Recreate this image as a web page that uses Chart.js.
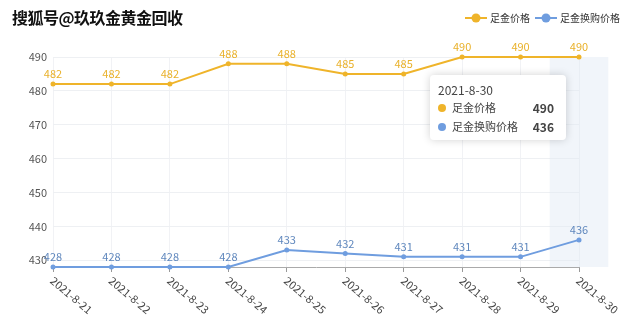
<!DOCTYPE html>
<html><head><meta charset="utf-8">
<script src="https://cdn.jsdelivr.net/npm/chart.js@4/dist/chart.umd.min.js"></script>
<style>
html,body{margin:0;padding:0;background:#fff;}
#wrap{position:relative;width:640px;height:330px;font-family:"Noto Sans CJK SC","Noto Sans",sans-serif;}
#wm{position:absolute;left:12px;top:5px;font-size:16px;font-weight:bold;color:#111;letter-spacing:-0.5px;text-shadow:0 0 2px #fff,0 0 1px #fff;}
#tt{position:absolute;background:#fff;border-radius:4px;box-shadow:0 0 8px rgba(0,0,0,0.18);padding:0;color:#444;font-size:11px;pointer-events:none;}
#tt .t{position:absolute;left:8px;top:6px;white-space:nowrap;font-size:12px;}
#tt .r{position:absolute;left:8px;right:12px;white-space:nowrap;}
#tt .d{display:inline-block;width:8px;height:8px;border-radius:50%;margin-right:6px;vertical-align:middle;position:relative;top:-1px;}
#tt .v{position:absolute;right:0;font-weight:bold;color:#444;font-size:12px;}
</style></head>
<body><div id="wrap"><canvas id="c" width="640" height="330"></canvas><div id="wm">搜狐号@玖玖金黄金回收</div><div id="tt"></div></div>
<script>
const categories = ["2021-8-21","2021-8-22","2021-8-23","2021-8-24","2021-8-25","2021-8-26","2021-8-27","2021-8-28","2021-8-29","2021-8-30"];
const seriesNames = ["足金价格","足金换购价格"];
const goldPrice = [482,482,482,488,488,485,485,490,490,490];
const exchangePrice = [428,428,428,428,433,432,431,431,431,436];
const yTicks = [430,440,450,460,470,480,490];
const activeIndex = 9;

const colors = ["#efb42a","#6f9ddf"];
const labelColors = ["#e9b12a","#5f87bd"];
const FONT = '"Noto Sans CJK SC","Noto Sans",sans-serif';

const customPlugin = {
  id: 'custom',
  beforeDatasetsDraw(chart) {
    const ctx = chart.ctx, x = chart.scales.x, a = chart.chartArea;
    const step = x.getPixelForValue(1) - x.getPixelForValue(0);
    const cx = x.getPixelForValue(activeIndex);
    ctx.save();
    ctx.fillStyle = 'rgba(225,233,245,0.45)';
    ctx.fillRect(cx - step/2, a.top, step, a.bottom - a.top);
    ctx.restore();
  },
  afterDatasetsDraw(chart) {
    const ctx = chart.ctx;
    ctx.save();
    ctx.font = '11px ' + FONT;
    ctx.textAlign = 'center';
    ctx.textBaseline = 'middle';
    chart.data.datasets.forEach((ds, di) => {
      const meta = chart.getDatasetMeta(di);
      ctx.fillStyle = labelColors[di];
      meta.data.forEach((pt, i) => {
        ctx.fillText(String(ds.data[i]), pt.x, pt.y - 10);
      });
    });
    // x labels rotated
    const x = chart.scales.x, a = chart.chartArea;
    ctx.fillStyle = '#444';
    ctx.font = '11px ' + FONT;
    ctx.textAlign = 'left';
    ctx.textBaseline = 'middle';
    categories.forEach((lab, i) => {
      const px = x.getPixelForValue(i);
      ctx.save();
      ctx.translate(px - 1, a.bottom + 12);
      ctx.rotate(40 * Math.PI / 180);
      ctx.fillText(lab, 0, 0);
      ctx.restore();
    });
    // legend
    ctx.font = '10px ' + FONT;
    ctx.textBaseline = 'middle';
    const items = [{x: 465, name: seriesNames[0], c: colors[0]}, {x: 535, name: seriesNames[1], c: colors[1]}];
    items.forEach(it => {
      ctx.strokeStyle = it.c; ctx.lineWidth = 2;
      ctx.beginPath(); ctx.moveTo(it.x, 18); ctx.lineTo(it.x + 22, 18); ctx.stroke();
      ctx.fillStyle = it.c;
      ctx.beginPath(); ctx.arc(it.x + 11, 18, 4.5, 0, Math.PI * 2); ctx.fill();
      ctx.fillStyle = '#333';
      ctx.fillText(it.name, it.x + 25, 18);
    });
    ctx.restore();
  }
};

function externalTooltip(context) {
  const el = document.getElementById('tt');
  const tip = context.tooltip;
  if (tip.opacity === 0) { el.style.display = 'none'; return; }
  el.style.display = 'block';
  const idx = tip.dataPoints[0].dataIndex;
  let html = '<div class="t">' + categories[idx] + '</div>';
  tip.dataPoints.forEach((dp, k) => {
    html += '<div class="r" style="top:' + (24 + k * 19) + 'px"><span class="d" style="background:' + colors[dp.datasetIndex] + '"></span>' +
      seriesNames[dp.datasetIndex] + '<span class="v">' + dp.raw + '</span></div>';
  });
  el.innerHTML = html;
  el.style.left = (tip.caretX - 149) + 'px';
  el.style.top = '75px';
  el.style.width = '136px';
  el.style.height = '65px';
}

const chart = new Chart(document.getElementById('c'), {
  type: 'line',
  data: {
    labels: categories,
    datasets: [
      {label: seriesNames[0], data: goldPrice, borderColor: colors[0], backgroundColor: colors[0], borderWidth: 2, pointRadius: 2.5, pointHoverRadius: 2.5, pointBackgroundColor: colors[0], pointBorderWidth: 0, tension: 0, clip: false},
      {label: seriesNames[1], data: exchangePrice, borderColor: colors[1], backgroundColor: colors[1], borderWidth: 2, pointRadius: 2.5, pointHoverRadius: 2.5, pointBackgroundColor: colors[1], pointBorderWidth: 0, tension: 0, clip: false}
    ]
  },
  options: {
    responsive: false,
    animation: false,
    events: [],
    layout: {padding: {top: 57, right: 61, left: 0, bottom: 0}},
    interaction: {mode: 'index', intersect: false},
    plugins: {
      legend: {display: false},
      tooltip: {enabled: false, external: externalTooltip, mode: 'index', intersect: false}
    },
    scales: {
      x: {
        offset: false,
        grid: {color: '#f1f2f5', tickColor: '#999', tickLength: 5, offset: false},
        border: {display: true, color: '#aaa', width: 1},
        ticks: {display: false},
        afterFit(s) { s.height = 63; }
      },
      y: {
        min: 428, max: 490,
        afterBuildTicks(s) { s.ticks = yTicks.map(v => ({value: v})); },
        grid: {color: '#eef0f3', drawTicks: false},
        border: {display: false},
        ticks: {color: '#555', padding: 6, font: {size: 11, family: FONT}},
        afterFit(s) { s.width = 53; }
      }
    }
  },
  plugins: [customPlugin]
});
chart.tooltip.setActiveElements([{datasetIndex: 0, index: activeIndex}, {datasetIndex: 1, index: activeIndex}], {x: 579, y: 120});
chart.update();
</script></body></html>
